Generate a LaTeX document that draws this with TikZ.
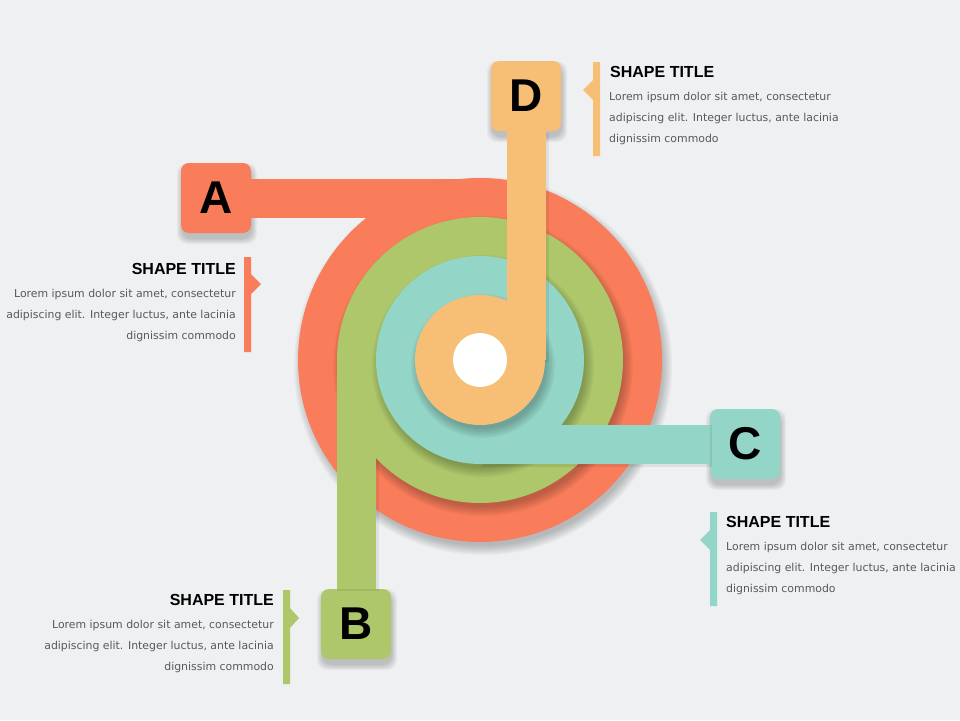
\documentclass[tikz,border=0pt]{standalone}
\usepackage{fontspec}
\setmainfont{Liberation Sans}
\newfontfamily\bodyfont{DejaVu Sans}
\usetikzlibrary{positioning,calc}

\definecolor{pageGray}{RGB}{239,240,242}
\definecolor{coralRed}{RGB}{249,125,91}
\definecolor{leafGreen}{RGB}{173,199,106}
\definecolor{mintTeal}{RGB}{147,213,199}
\definecolor{sandOrange}{RGB}{247,190,118}
\definecolor{bodyGray}{RGB}{89,89,89}

\tikzset{
	softshade/.style={fill=black, opacity=0.035},
	letterbox/.style={rounded corners=8pt, minimum size=70pt, inner sep=0pt,
		font=\fontsize{46}{46}\selectfont\bfseries},
	ring/.style={circle, inner sep=0pt},
	stem/.style={line width=39pt},
	stemshade/.style={preaction={draw=black, opacity=0.07, line width=42pt,
		transform canvas={shift={(2pt,-2pt)}}}},
	heading/.style={font=\fontsize{16}{16}\selectfont\bfseries, inner sep=0pt},
	blurb/.style={font=\bodyfont\fontsize{10.9}{21}\selectfont, text=bodyGray, inner sep=0pt}
}

\begin{document}
\begin{tikzpicture}[x=1pt, y=-1pt]
		\fill[pageGray] (0,0) rectangle (960,720);
		\useasboundingbox (0,0) rectangle (960,720);

		\coordinate (core) at (480,360);

		% letter boxes
		\foreach \bx/\by in {216/198, 356/624, 745/444, 526/96}
			\foreach \k in {0,...,5}
				\fill[softshade, rounded corners=10pt] (\bx-34-\k,\by-30-\k) rectangle (\bx+36+\k,\by+41+\k);
		\node[letterbox, fill=coralRed] (boxA) at (216,198) {A};
		\node[letterbox, fill=leafGreen] (boxB) at (356,624) {B};
		\node[letterbox, fill=mintTeal] (boxC) at (745,444) {C};
		\node[letterbox, fill=sandOrange] (boxD) at (526,96) {D};

		% rings with their stems
		\draw[stem, coralRed] (boxA.east) -- (boxA.east -| core);
		\foreach \k in {0,...,6}
			\fill[softshade] ($(core)+(3,6)$) circle[radius=180+1.5*\k];
		\node[ring, fill=coralRed, minimum size=364pt] (ringA) at (core) {};

		\foreach \k in {0,...,6}
			\fill[softshade] ($(core)+(3,6)$) circle[radius=141+1.5*\k];
		\draw[stem, stemshade, leafGreen] (boxB.north) -- (boxB.north |- core);
		\node[ring, fill=leafGreen, minimum size=286pt] (ringB) at (core) {};

		\foreach \k in {0,...,6}
			\fill[softshade] ($(core)+(3,6)$) circle[radius=102+1.5*\k];
		\draw[stem, stemshade, mintTeal] (boxC.west) -- (boxC.west -| core);
		\node[ring, fill=mintTeal, minimum size=208pt] (ringC) at (core) {};

		\foreach \k in {0,...,6}
			\fill[softshade] ($(core)+(3,6)$) circle[radius=63+1.5*\k];
		\draw[stem, stemshade, sandOrange] (boxD.south) -- (boxD.south |- core);
		\node[ring, fill=sandOrange, minimum size=130pt] (ringD) at (core) {};

		\node[circle, fill=white, inner sep=0pt, minimum size=54pt] (hub) at (core) {};

		% tabs
		\fill[coralRed] (244,257) -- (251,257) -- (251,274) -- (261,284) -- (251,294) -- (251,352) -- (244,352) -- cycle;
		\fill[leafGreen] (283,590) -- (290,590) -- (290,608) -- (299,618) -- (290,628) -- (290,684) -- (283,684) -- cycle;
		\fill[mintTeal] (717,512) -- (710,512) -- (710,530) -- (700,540) -- (710,550) -- (710,606) -- (717,606) -- cycle;
		\fill[sandOrange] (600,62) -- (593,62) -- (593,80) -- (583,90) -- (593,100) -- (593,156) -- (600,156) -- cycle;

		% texts
		\node[heading, anchor=base east] (titleA) at (236,274) {SHAPE TITLE};
		\node[blurb, anchor=north east, align=right] (textA) at (236,288.7) {Lorem ipsum dolor sit amet, consectetur\\adipiscing elit. Integer luctus, ante lacinia\\dignissim commodo};

		\node[heading, anchor=base east] (titleB) at (274,605) {SHAPE TITLE};
		\node[blurb, anchor=north east, align=right] (textB) at (274,620.2) {Lorem ipsum dolor sit amet, consectetur\\adipiscing elit. Integer luctus, ante lacinia\\dignissim commodo};

		\node[heading, anchor=base west] (titleC) at (726,527) {SHAPE TITLE};
		\node[blurb, anchor=north west, align=left] (textC) at (726,542.5) {Lorem ipsum dolor sit amet, consectetur\\adipiscing elit. Integer luctus, ante lacinia\\dignissim commodo};

		\node[heading, anchor=base west] (titleD) at (610,77) {SHAPE TITLE};
		\node[blurb, anchor=north west, align=left] (textD) at (609,92.5) {Lorem ipsum dolor sit amet, consectetur\\adipiscing elit. Integer luctus, ante lacinia\\dignissim commodo};
	\end{tikzpicture}
\end{document}
